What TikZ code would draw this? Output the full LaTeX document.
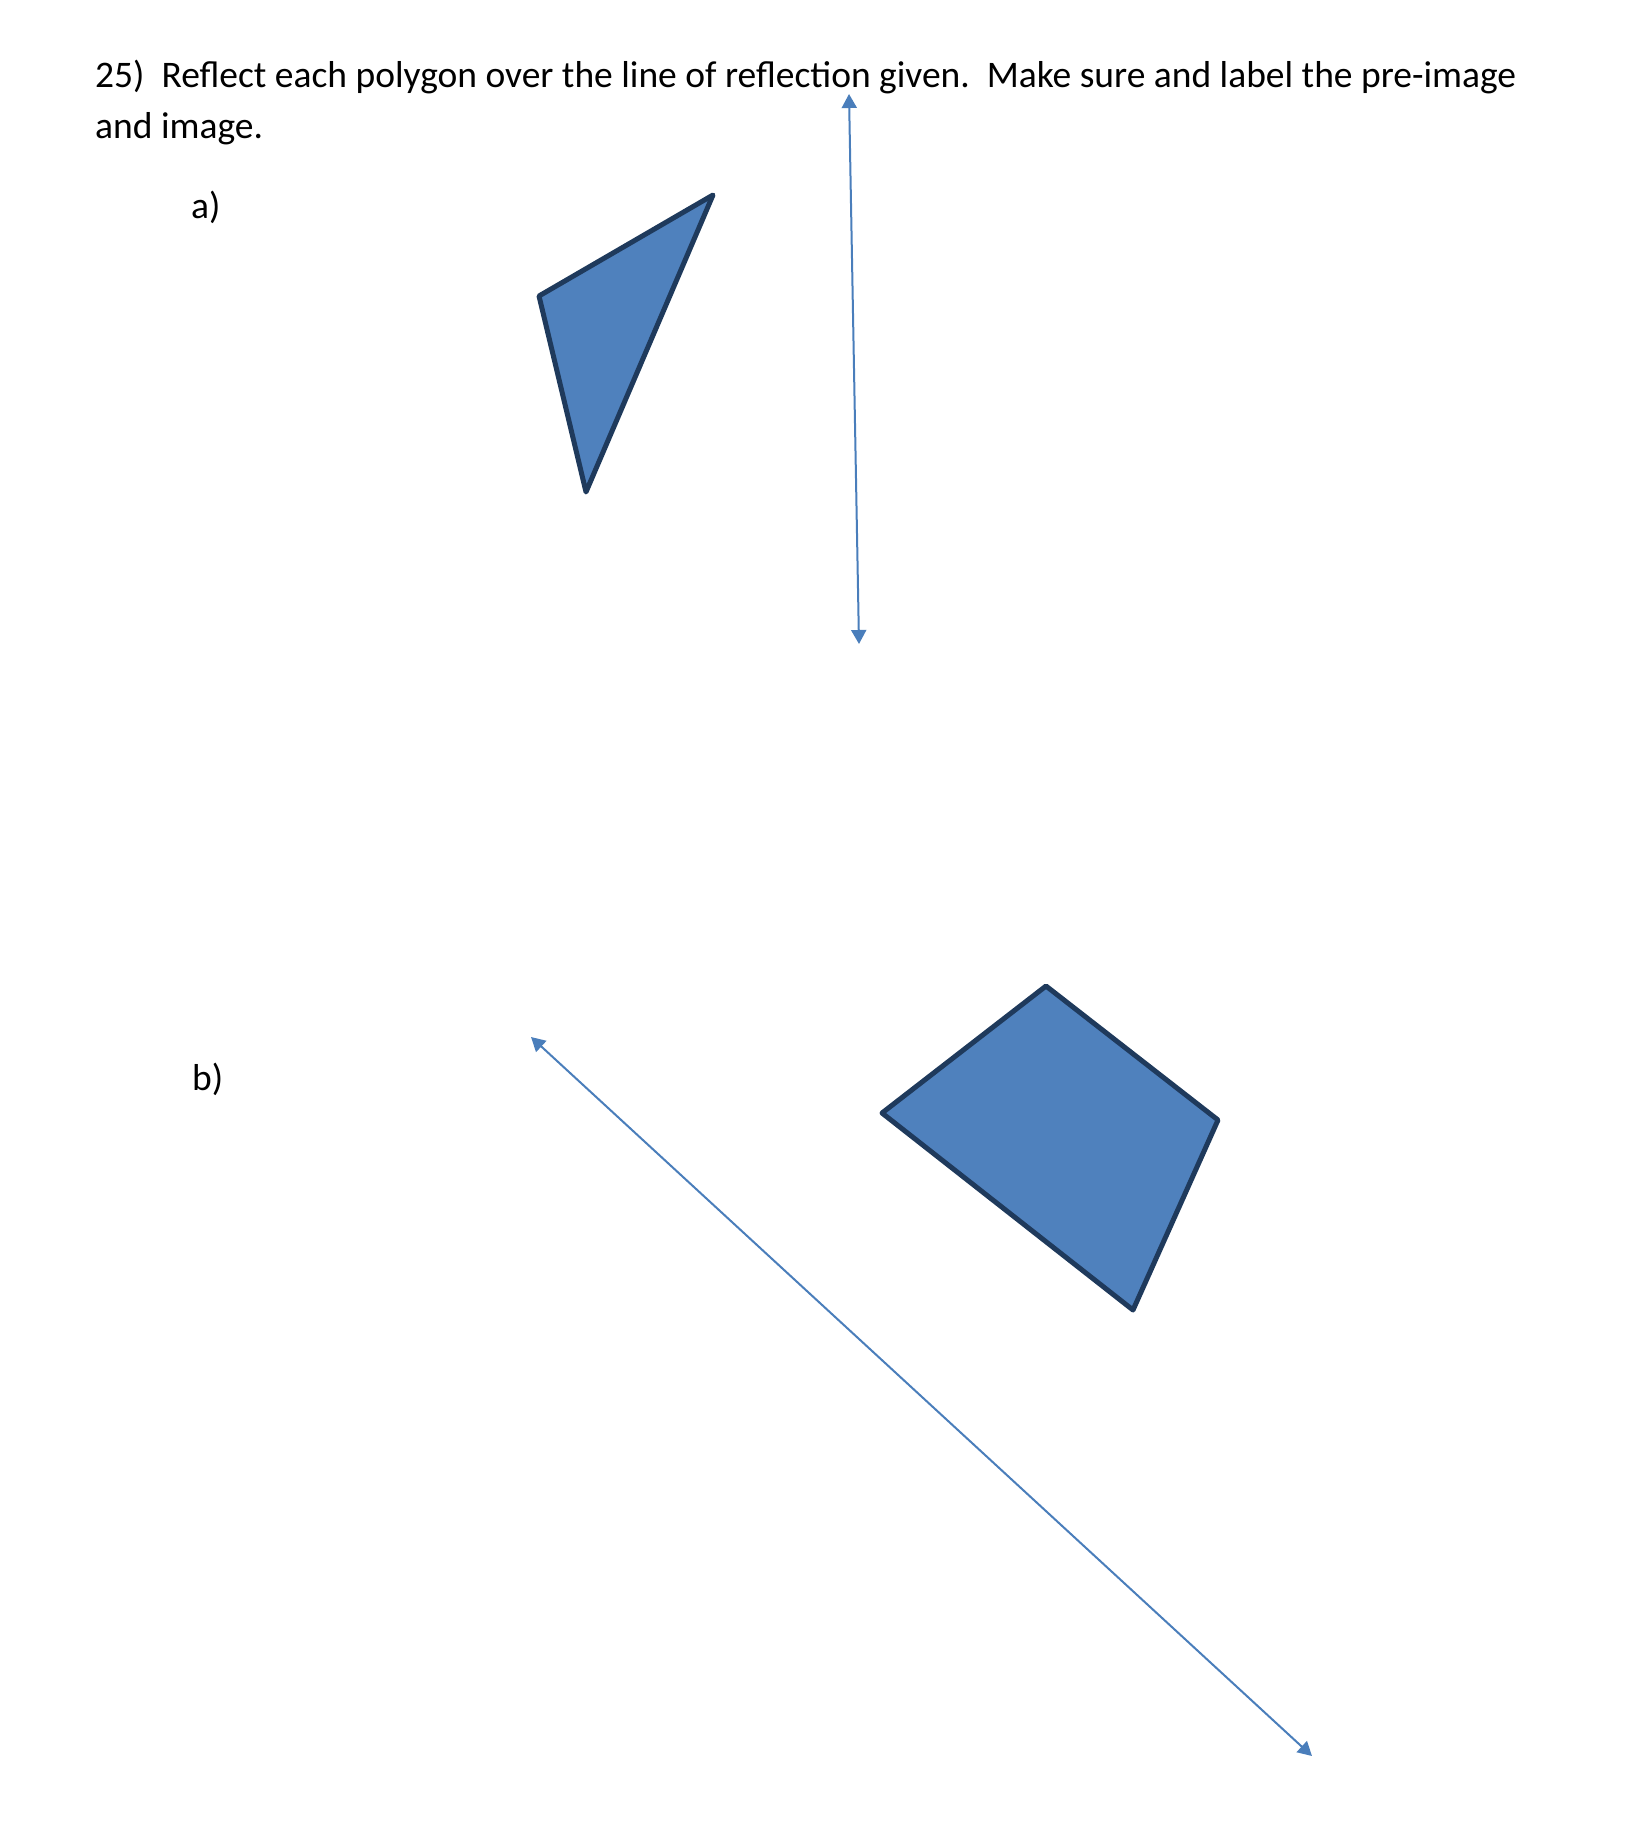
\documentclass[tikz,border=0pt]{standalone}
\usepackage{fontspec}
\setmainfont{Carlito}
\usetikzlibrary{arrows.meta}
\definecolor{shapefill}{HTML}{4F81BD}
\definecolor{shapeedge}{HTML}{1F3A5C}
\definecolor{linecol}{HTML}{4A7EBB}
\tikzset{
  txt/.style={font=\fontsize{37.5}{46}\selectfont, inner sep=0pt, anchor=base west},
  poly/.style={fill=shapefill, draw=shapeedge, line width=5pt, line join=round},
  refl/.style={draw=linecol, line width=2pt, {Triangle[length=14pt,width=15pt]}-{Triangle[length=14pt,width=15pt]}}
}
\begin{document}
\begin{tikzpicture}[x=1pt,y=-1pt]
\useasboundingbox (0,0) rectangle (1640,1847);
\node[txt] (q1) at (95,87) {25)\ \ Reflect each polygon over the line of reflection given.\ \ Make sure and label the pre-image};
\node[txt] (q2) at (95,138) {and image.};
\node[txt] (la) at (191,218) {a)};
\node[txt] (lb) at (192,1090) {b)};
% triangle
\coordinate (t1) at (713,195);
\coordinate (t2) at (539,296);
\coordinate (t3) at (586,492);
\draw[poly] (t1) -- (t2) -- (t3) -- cycle;
% vertical line
\coordinate (v1) at (849,94);
\coordinate (v2) at (859,644);
\draw[refl] (v1) -- (v2);
% quadrilateral
\coordinate (p1) at (1046,986);
\coordinate (p2) at (1218,1120);
\coordinate (p3) at (1133,1310);
\coordinate (p4) at (882,1113);
\draw[poly] (p1) -- (p2) -- (p3) -- (p4) -- cycle;
% diagonal line
\coordinate (d1) at (531,1037);
\coordinate (d2) at (1312,1756);
\draw[refl] (d1) -- (d2);
\end{tikzpicture}
\end{document}
